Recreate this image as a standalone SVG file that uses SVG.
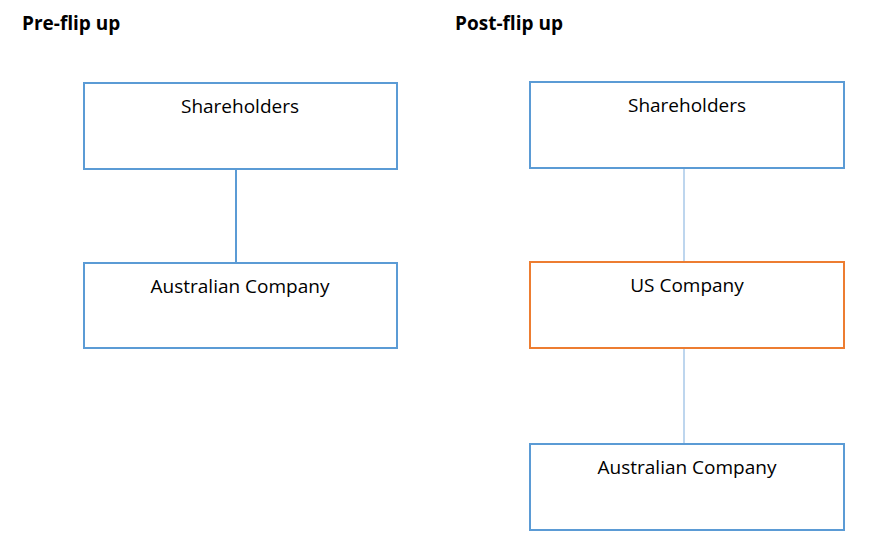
<svg xmlns="http://www.w3.org/2000/svg" width="869" height="555" viewBox="0 0 869 555">
<style>
.box{fill:#fff;stroke:#5b9bd5;stroke-width:2}
.org{fill:#fff;stroke:#ed7d31;stroke-width:2}
.t{font-family:"Open Sans","Liberation Sans",sans-serif;font-size:19px;fill:#000;text-anchor:middle}
.h{font-family:"Open Sans","Liberation Sans",sans-serif;font-size:19px;font-weight:bold;fill:#000}
.c{stroke:#5b9bd5;stroke-width:2}
.c2{stroke:#a9c8e8;stroke-width:1.5}
</style>
<rect width="869" height="555" fill="#fff"/>
<text class="h" x="22" y="30">Pre-flip up</text>
<text class="h" x="455" y="30">Post-flip up</text>
<g id="connectors">
<line class="c" x1="236" y1="169" x2="236" y2="263"/>
<line class="c2" x1="684" y1="168" x2="684" y2="262"/>
<line class="c2" x1="684" y1="348" x2="684" y2="444"/>
</g>
<g id="pre-shareholders"><rect class="box" x="84" y="83" width="313" height="86"/><text class="t" x="240" y="113">Shareholders</text></g>
<g id="pre-australian"><rect class="box" x="84" y="263" width="313" height="85"/><text class="t" x="240" y="293">Australian Company</text></g>
<g id="post-shareholders"><rect class="box" x="530" y="82" width="314" height="86"/><text class="t" x="687" y="112">Shareholders</text></g>
<g id="post-us"><rect class="org" x="530" y="262" width="314" height="86"/><text class="t" x="687" y="292">US Company</text></g>
<g id="post-australian"><rect class="box" x="530" y="444" width="314" height="86"/><text class="t" x="687" y="474">Australian Company</text></g>
</svg>
